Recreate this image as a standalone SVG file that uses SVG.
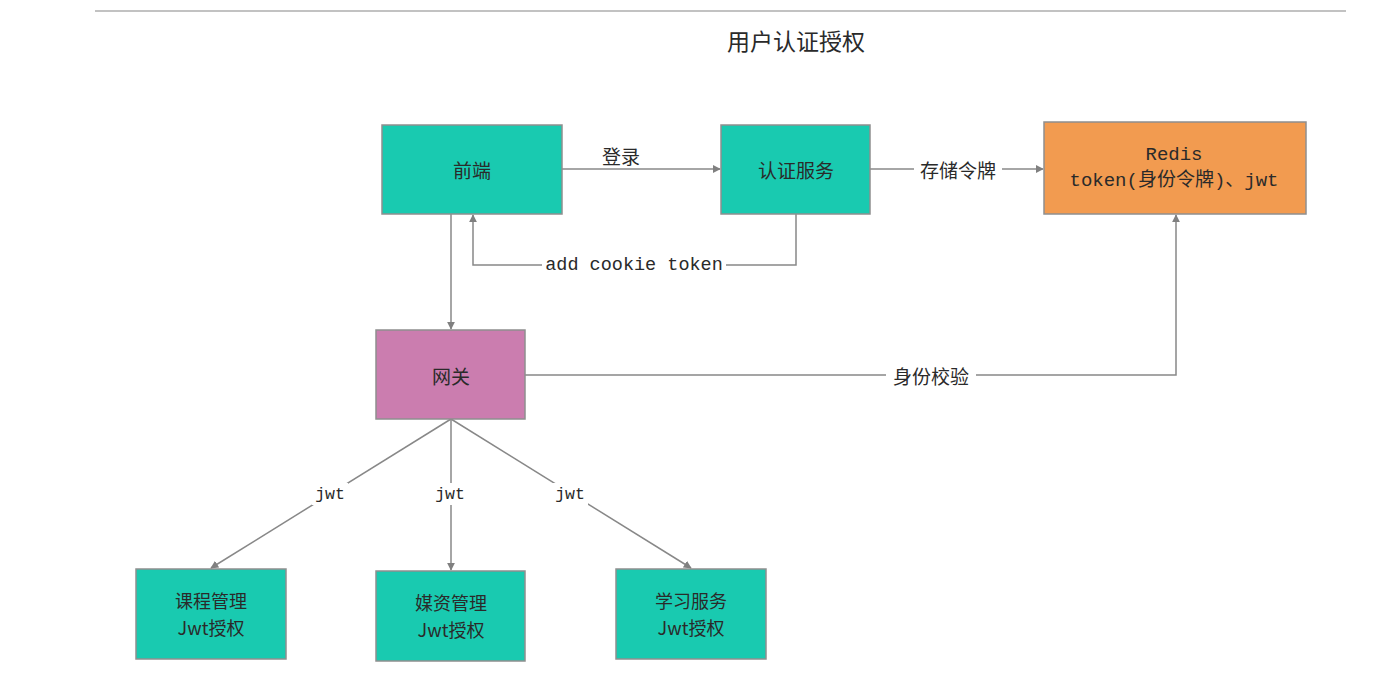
<svg xmlns="http://www.w3.org/2000/svg" width="1378" height="697" viewBox="0 0 1378 697">
<style>
.box{stroke:#8f8f8f;stroke-width:1.5}
.teal{fill:#19cab0}
.orange{fill:#f29b50}
.pink{fill:#cb7daf}
.lbl{font-family:"Noto Sans CJK SC","Liberation Sans",sans-serif;font-size:19px;fill:#2a2a2a;text-anchor:middle;dominant-baseline:central}
.sub{font-family:"Noto Sans CJK SC","Liberation Sans",sans-serif;font-size:18px;fill:#2a2a2a;text-anchor:middle;dominant-baseline:central}
.mono{font-family:"Liberation Mono","Noto Sans CJK SC",monospace;font-size:18.5px;fill:#2a2a2a;text-anchor:middle;dominant-baseline:central}
.small{font-family:"Liberation Mono","Noto Sans CJK SC",monospace;font-size:16.5px;fill:#2a2a2a;text-anchor:middle;dominant-baseline:central}
.line{fill:none;stroke:#888;stroke-width:1.5}
.bg{fill:#fff}
</style>
<defs>
<marker id="arr" viewBox="0 0 10 10" refX="9" refY="5" markerWidth="8" markerHeight="8" markerUnits="userSpaceOnUse" orient="auto">
<path d="M0,0 L10,5 L0,10 z" fill="#808080"/>
</marker>
</defs>
<rect width="1378" height="697" fill="#fff"/>
<line x1="95" y1="11" x2="1346" y2="11" stroke="#c2c2c2" stroke-width="2"/>
<text x="796" y="40" class="lbl" style="font-size:23px">用户认证授权</text>

<g id="connectors">
<path class="line" d="M562,169 L720,169" marker-end="url(#arr)"/>
<path class="line" d="M870,169 L1043,169" marker-end="url(#arr)"/>
<path class="line" d="M796,214 L796,265 L473,265 L473,215" marker-end="url(#arr)"/>
<path class="line" d="M451,214 L451,329" marker-end="url(#arr)"/>
<path class="line" d="M525,375 L1176,375 L1176,215" marker-end="url(#arr)"/>
<path class="line" d="M451,419 L211,568" marker-end="url(#arr)"/>
<path class="line" d="M451,419 L451,570" marker-end="url(#arr)"/>
<path class="line" d="M451,419 L691,568" marker-end="url(#arr)"/>
<text x="621" y="155" class="lbl">登录</text>
<rect class="bg" x="914" y="157" width="88" height="24"/>
<text x="958" y="169" class="lbl">存储令牌</text>
<rect class="bg" x="542" y="255" width="184" height="21"/>
<text x="634" y="265" class="mono">add cookie token</text>
<rect class="bg" x="886" y="363" width="90" height="24"/>
<text x="931" y="375" class="lbl">身份校验</text>
<rect class="bg" x="312" y="483" width="36" height="22"/>
<text x="330" y="494" class="small">jwt</text>
<rect class="bg" x="432" y="483" width="36" height="22"/>
<text x="450" y="494" class="small">jwt</text>
<rect class="bg" x="552" y="483" width="36" height="22"/>
<text x="570" y="494" class="small">jwt</text>
</g>

<g id="frontend">
<rect class="box teal" x="382" y="125" width="180" height="89"/>
<text x="472" y="169" class="lbl">前端</text>
</g>
<g id="auth">
<rect class="box teal" x="721" y="125" width="149" height="89"/>
<text x="796" y="169" class="lbl">认证服务</text>
</g>
<g id="redis">
<rect class="box orange" x="1044" y="122" width="262" height="92"/>
<text x="1174" y="155" class="mono" style="font-size:19px">Redis</text>
<text x="1174" y="181" class="mono" style="font-size:19px">token(身份令牌)、jwt</text>
</g>
<g id="gateway">
<rect class="box pink" x="376" y="330" width="149" height="89"/>
<text x="451" y="375" class="lbl">网关</text>
</g>
<g id="course">
<rect class="box teal" x="136" y="569" width="150" height="90"/>
<text x="211" y="600" class="sub">课程管理</text>
<text x="211" y="627" class="sub">Jwt授权</text>
</g>
<g id="media">
<rect class="box teal" x="376" y="571" width="149" height="90"/>
<text x="451" y="602" class="sub">媒资管理</text>
<text x="451" y="629" class="sub">Jwt授权</text>
</g>
<g id="learning">
<rect class="box teal" x="616" y="569" width="150" height="90"/>
<text x="691" y="600" class="sub">学习服务</text>
<text x="691" y="627" class="sub">Jwt授权</text>
</g>
</svg>
